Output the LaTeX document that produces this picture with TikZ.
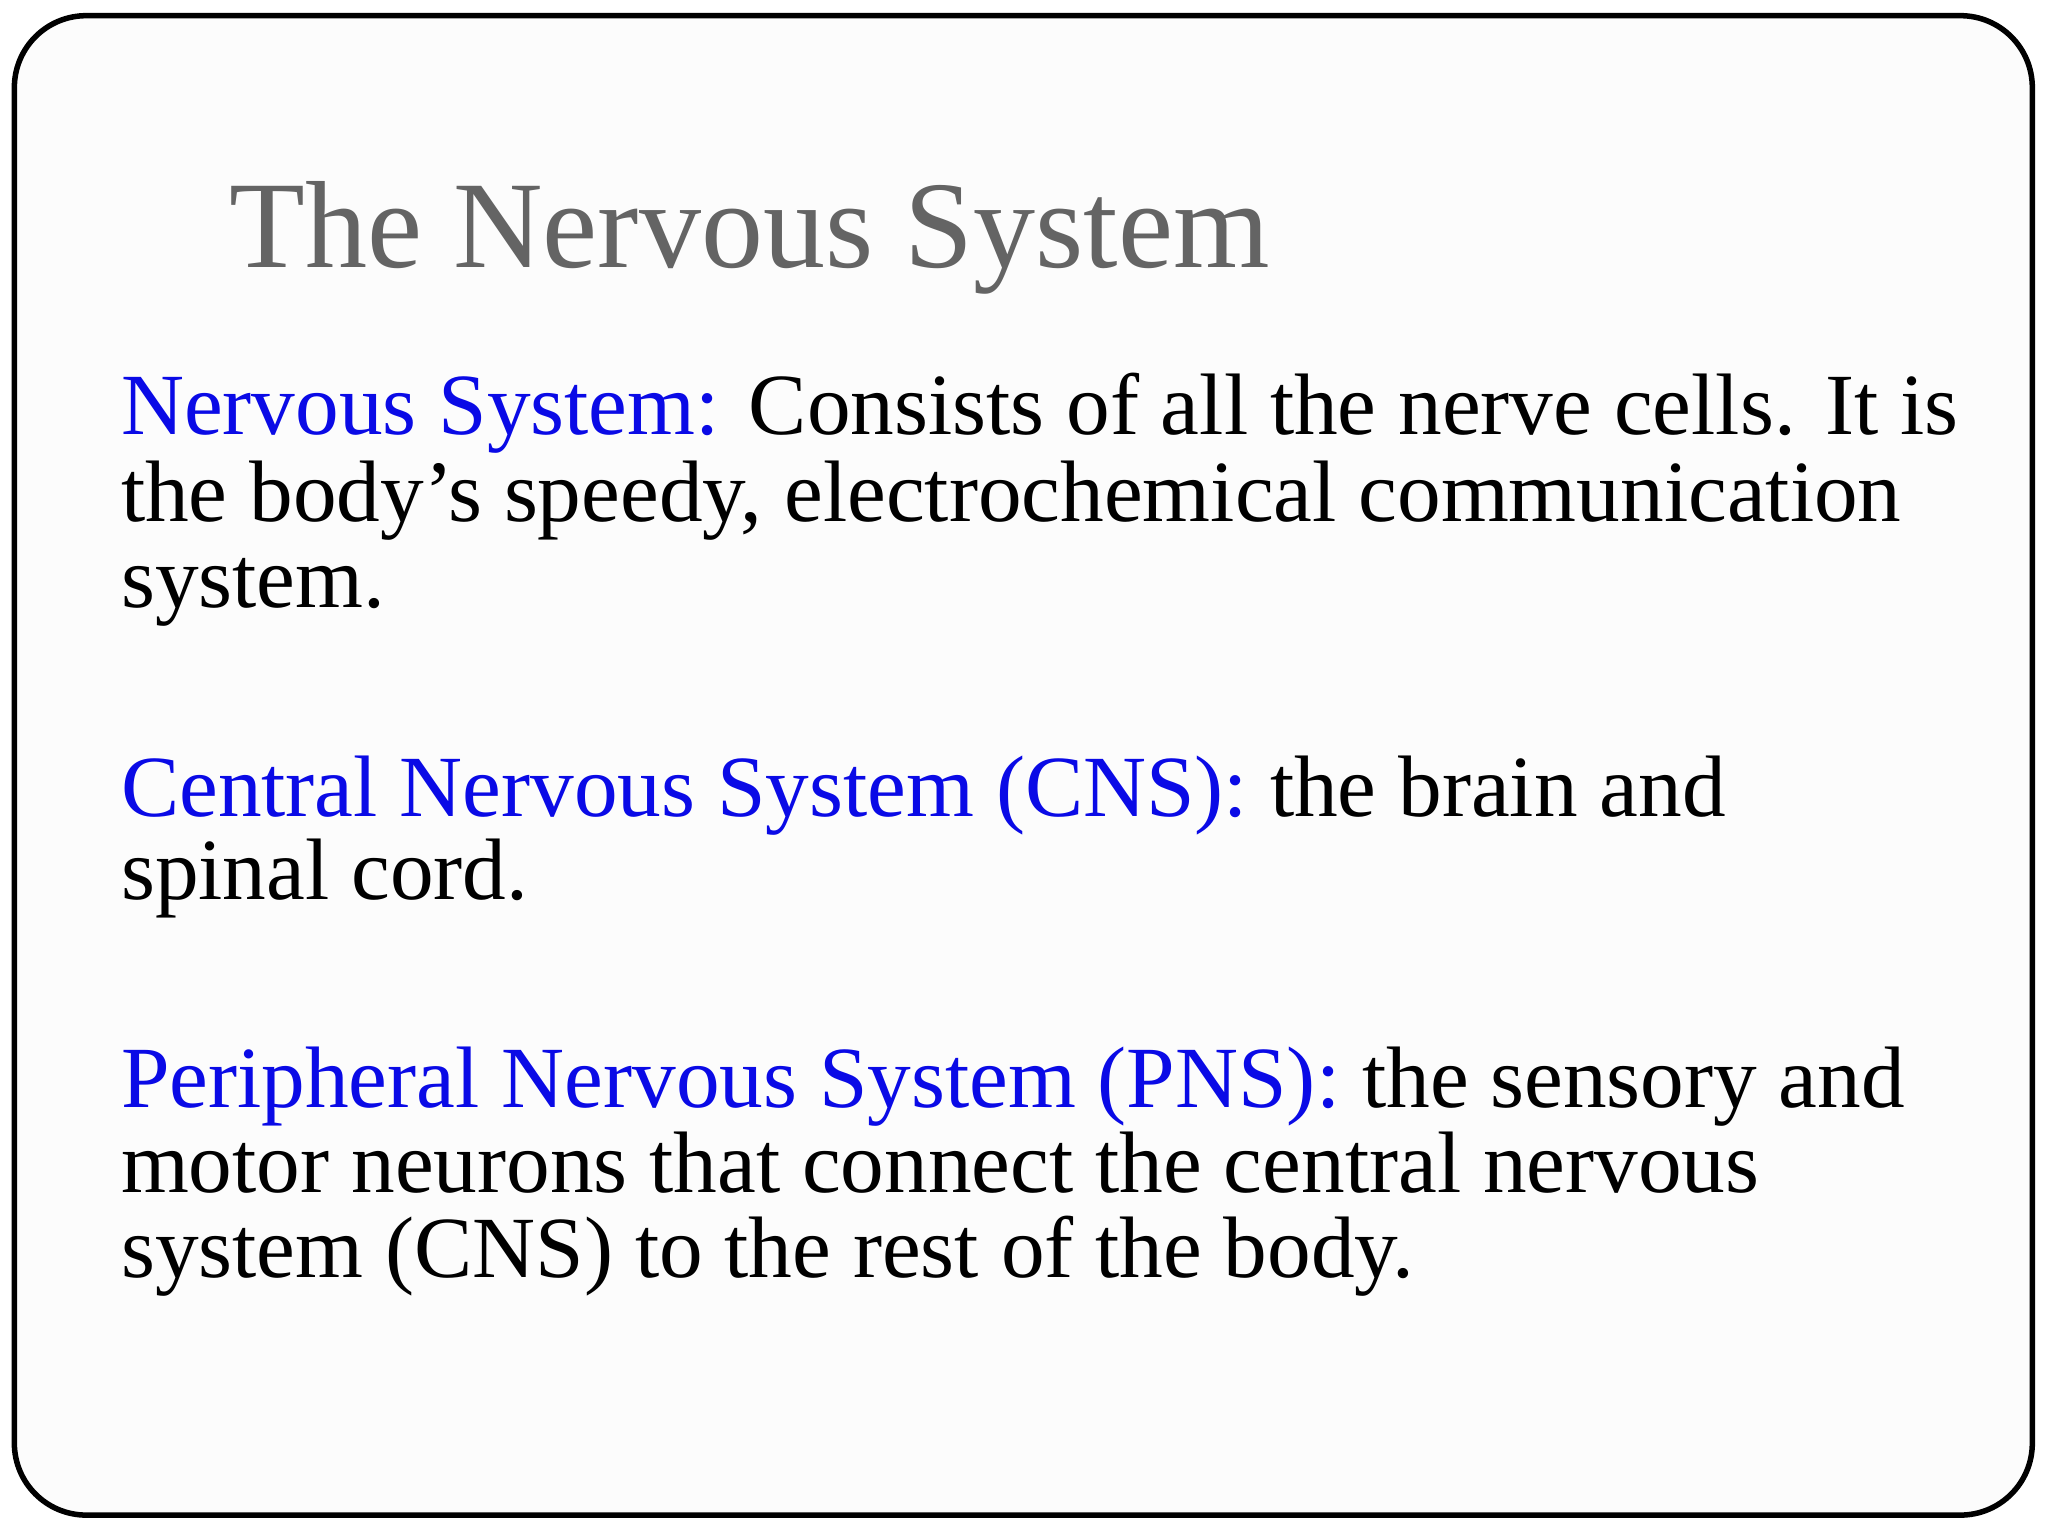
\documentclass[tikz,border=0pt]{standalone}
\usepackage{fontspec}
\setmainfont{Liberation Serif}
\definecolor{tblue}{RGB}{10,10,230}
\definecolor{tgray}{RGB}{100,100,100}
\tikzset{ln/.style={anchor=base west,inner sep=0pt,font=\fontsize{19}{19}\selectfont}}
\begin{document}
\begin{tikzpicture}[x=0.01cm,y=-0.01cm]
\useasboundingbox (0,0) rectangle (1568,1176);
\fill[white] (0,0) rectangle (1568,1176);
\draw[line width=1.2pt,rounded corners=0.55cm,fill=black!1] (11,12) rectangle (1556,1160);
\node[anchor=base west,inner sep=0pt,text=tgray,font=\fontsize{27}{28}\selectfont] (title) at (175,205) {The Nervous System};
\node[ln] (a1) at (92,333) {\textcolor{tblue}{Nervous System:} Consists of all the nerve cells. It is};
\node[ln] (a2) at (92,399) {the body’s speedy, electrochemical communication};
\node[ln] (a3) at (92,465) {system.};
\node[ln] (b1) at (92,625) {\textcolor{tblue}{Central Nervous System (CNS):} the brain and};
\node[ln] (b2) at (92,689) {spinal cord.};
\node[ln] (c1) at (92,848) {\textcolor{tblue}{Peripheral Nervous System (PNS):} the sensory and};
\node[ln] (c2) at (92,913) {motor neurons that connect the central nervous};
\node[ln] (c3) at (92,978) {system (CNS) to the rest of the body.};
\end{tikzpicture}
\end{document}
